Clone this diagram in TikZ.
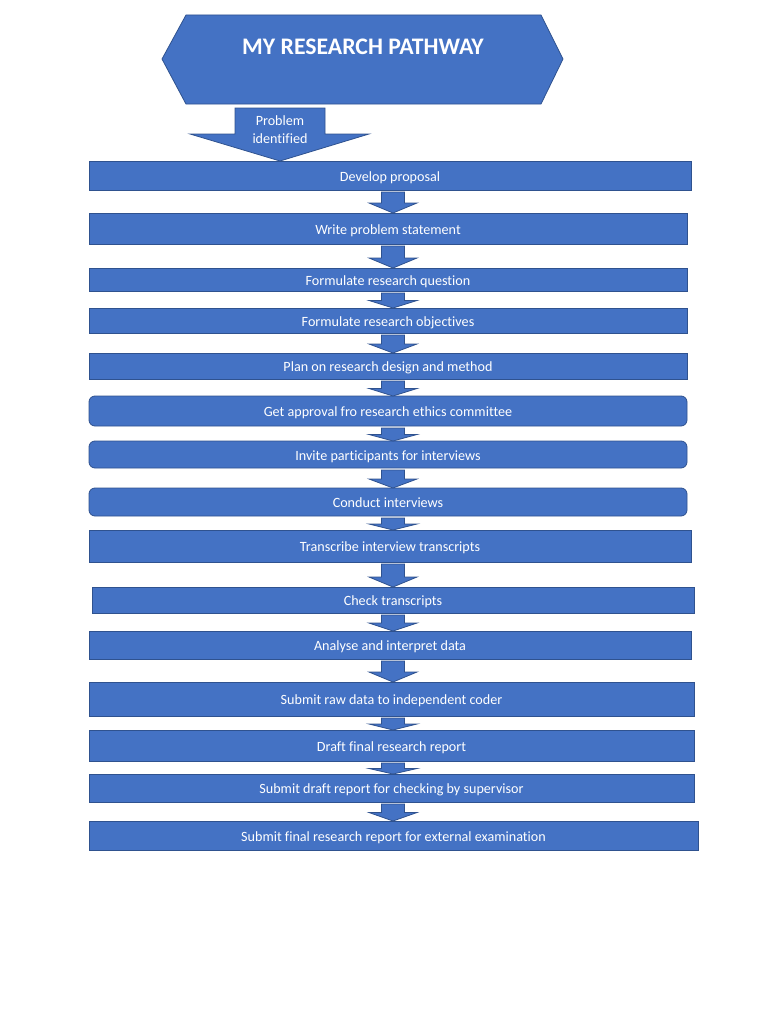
\documentclass[tikz,border=0pt]{standalone}
\usepackage{fontspec}
\setmainfont[Ligatures=NoCommon]{Carlito}
\usetikzlibrary{calc}
\definecolor{fillblue}{HTML}{4472C4}
\definecolor{lineblue}{HTML}{2F528F}
\tikzset{
  px/.style={x=0.75pt,y=-0.75pt},
  stepbox/.style={draw=lineblue,fill=fillblue,line width=0.6pt,text=white,inner sep=0pt,outer sep=0pt,
    font=\fontsize{10.6}{12}\selectfont,text height=8.6pt,text depth=0pt},
  roundbox/.style={stepbox,rounded corners=4.5pt},
  shape blue/.style={draw=lineblue,fill=fillblue,line width=0.6pt},
  barrow/.style={shape blue,to path={let \p1=(\tikztostart), \p2=(\tikztotarget), \n1={min(7.5,0.5*(\y1-\y2))} in
    (\x1-8.6pt,\y1) -- (\x1+8.6pt,\y1) -- (\x1+8.6pt,\y2+\n1) -- (\x1+18pt,\y2+\n1) -- (\x2,\y2)
    -- (\x1-18pt,\y2+\n1) -- (\x1-8.6pt,\y2+\n1) -- cycle}}
}
\newcommand{\bx}[6]{% style, name, x1, y1, x2, y2 -> text follows
  \node[#1,minimum width={(#5-#3)*0.75pt},minimum height={(#6-#4)*0.75pt}] (#2) at ({(#3+#5)/2},{(#4+#6)/2})}
\begin{document}
\begin{tikzpicture}[px]
\useasboundingbox (0,0) rectangle (768,1024);
% title hexagon
\draw[shape blue] (186,15) -- (541,15) -- (563,59) -- (541,104) -- (186,104) -- (162,59) -- cycle;
\node[text=white,font=\bfseries\fontsize{17.8}{20}\selectfont] (title) at (363,47) {MY RESEARCH PATHWAY};
% problem identified arrow
\draw[shape blue] (235,108) -- (325,108) -- (325,134) -- (369,134) -- (280,161) -- (190,134) -- (235,134) -- cycle;
\node[text=white,align=center,font=\fontsize{10.6}{13.5}\selectfont] (pi) at (280,130) {Problem\\identified};
% boxes
\bx{stepbox}{b1}{89}{161}{691}{190} {Develop proposal};
\bx{stepbox}{b2}{89}{213}{687}{244} {Write problem statement};
\bx{stepbox}{b3}{89}{268}{687}{291} {Formulate research question};
\bx{stepbox}{b4}{89}{308}{687}{333} {Formulate research objectives};
\bx{stepbox}{b5}{89}{353}{687}{379} {Plan on research design and method};
\bx{roundbox}{b6}{89}{396}{687}{426} {Get approval fro research ethics committee};
\bx{roundbox}{b7}{89}{441}{687}{468} {Invite participants for interviews};
\bx{roundbox}{b8}{89}{488}{687}{516} {Conduct interviews};
\bx{stepbox}{b9}{89}{530}{691}{562} {Transcribe interview transcripts};
\bx{stepbox}{b10}{92}{587}{694}{613} {Check transcripts};
\bx{stepbox}{b11}{89}{631}{691}{659} {Analyse and interpret data};
\bx{stepbox}{b12}{89}{682}{694}{716} {Submit raw data to independent coder};
\bx{stepbox}{b13}{89}{730}{694}{761} {Draft final research report};
\bx{stepbox}{b14}{89}{774}{694}{802} {Submit draft report for checking by supervisor};
\bx{stepbox}{b15}{89}{821}{698}{850} {Submit final research report for external examination};
% arrows
\coordinate (ax) at (393,0);
\foreach \a/\b in {b1/b2,b2/b3,b3/b4,b4/b5,b5/b6,b6/b7,b7/b8,b8/b9,b9/b10,b10/b11,b11/b12,b12/b13,b13/b14,b14/b15}
  \draw[barrow] ($(\a.south -| ax)+(0,2)$) to (\b.north -| ax);
\end{tikzpicture}
\end{document}
